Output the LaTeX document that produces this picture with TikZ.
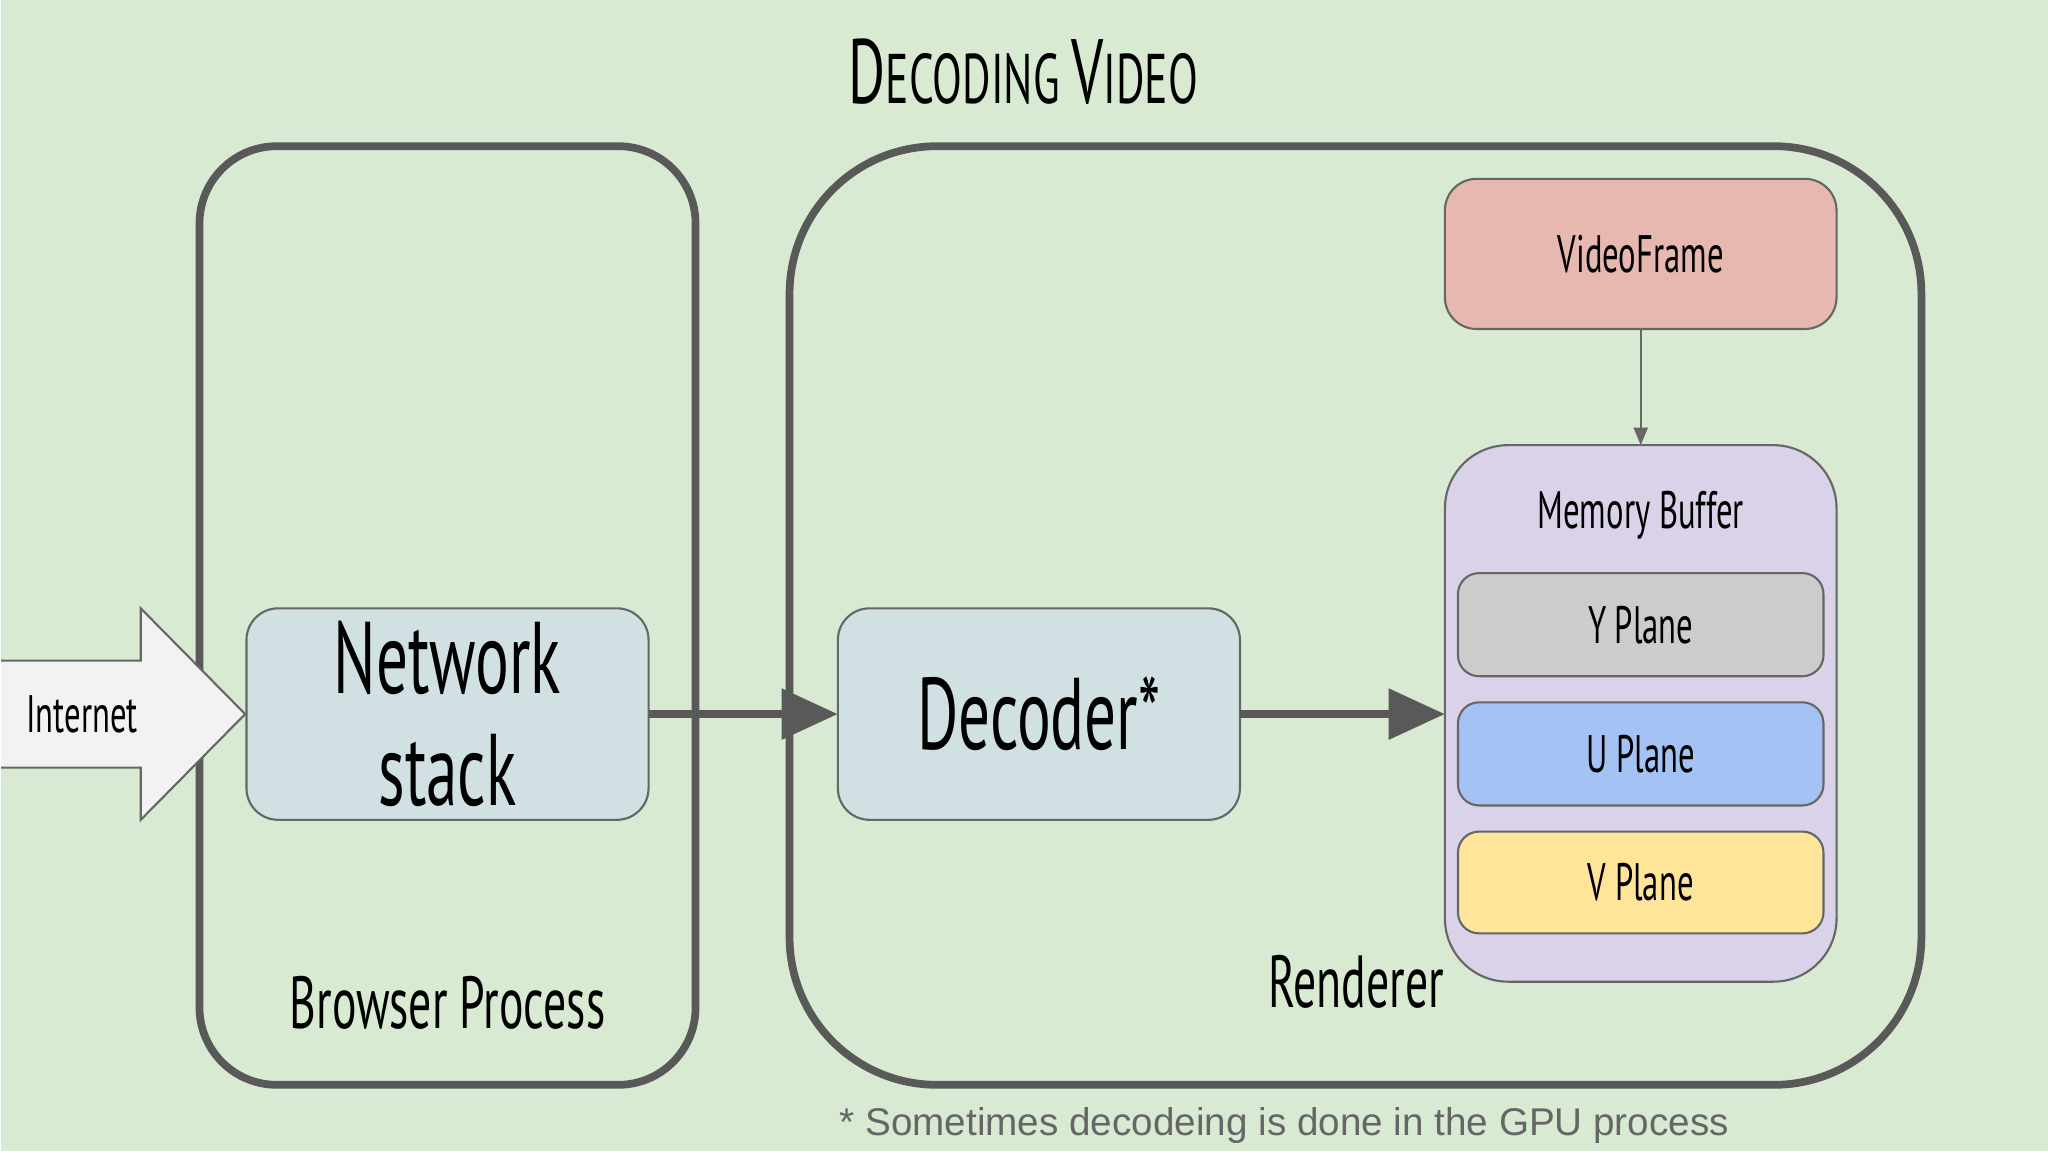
\documentclass[tikz,border=0pt]{standalone}
\usepackage{fontspec}
\setmainfont{PT Sans}[FakeStretch=0.62]
\newfontfamily\footfont{Liberation Sans}
\begin{document}
\begin{tikzpicture}[x=0.01306cm,y=-0.01306cm,
  frame/.style={draw=black!65,line width=2.2pt},
  box/.style={draw=black!60,line width=0.6pt,rounded corners=9pt},
  big/.style={font=\fontsize{29}{32}\selectfont},
  mid/.style={font=\fontsize{21}{24}\selectfont},
  small/.style={font=\fontsize{15}{18}\selectfont},
  thick arrow/.style={draw=black!65,line width=2.4pt,-{Triangle[length=16pt,width=14pt]}}]
\usetikzlibrary{arrows.meta}
\definecolor{bg}{HTML}{D9EAD3}
\fill[bg] (0,0) rectangle (1568,882);
\node (title) at (783,55) {\fontsize{26}{30}\selectfont D\fontsize{20}{24}\selectfont ECODING \fontsize{26}{30}\selectfont V\fontsize{20}{24}\selectfont IDEO};
\draw[frame,rounded corners=22pt] (152,112) rectangle (532,831);
\draw[frame,rounded corners=42pt] (604,112) rectangle (1471,831);
\node[mid] (bp) at (342,768) {Browser Process};
\node[mid] (rend) at (1038,752) {Renderer};
\draw[draw=black!60,fill=black!5,line width=0.6pt] (0,506) -- (107,506) -- (107,466) -- (187,547) -- (107,628) -- (107,588) -- (0,588);
\node[small] (inet) at (62,547) {Internet};
\draw[box,fill={rgb,255:red,208;green,224;blue,227}] (188,466) rectangle (496,628);
\node[big,align=center] (ns) at (342,547) {Network\\stack};
\draw[box,fill={rgb,255:red,208;green,224;blue,227}] (641,466) rectangle (949,628);
\node[big] (dec) at (795,547) {Decoder*};
\coordinate (nsE) at (496,547); \coordinate (decW) at (641,547);
\coordinate (decE) at (949,547); \coordinate (mbW) at (1106,547);
\draw[thick arrow] (nsE) -- (decW);
\draw[thick arrow] (decE) -- (mbW);
\draw[box,fill={rgb,255:red,230;green,184;blue,175}] (1106,137) rectangle (1406,252);
\node[small] (vf) at (1256,195) {VideoFrame};
\draw[box,rounded corners=18pt,fill={rgb,255:red,217;green,210;blue,233}] (1106,341) rectangle (1406,752);
\node[small] (mb) at (1256,395) {Memory Buffer};
\draw[box,rounded corners=6pt,fill={rgb,255:red,204;green,204;blue,204}] (1116,439) rectangle (1396,518);
\node[small] (y) at (1256,479) {Y Plane};
\draw[box,rounded corners=6pt,fill={rgb,255:red,164;green,194;blue,244}] (1116,538) rectangle (1396,617);
\node[small] (u) at (1256,578) {U Plane};
\draw[box,rounded corners=6pt,fill={rgb,255:red,255;green,229;blue,153}] (1116,637) rectangle (1396,715);
\node[small] (v) at (1256,676) {V Plane};
\coordinate (vfS) at (1256,252); \coordinate (mbN) at (1256,341);
\draw[draw=black!60,line width=0.6pt,-{Triangle[length=5pt,width=4pt]}] (vfS) -- (mbN);
\node[font=\footfont\fontsize{11}{13}\selectfont,text=black!60] (fn) at (983,862) {* Sometimes decodeing is done in the GPU process};
\end{tikzpicture}
\end{document}
